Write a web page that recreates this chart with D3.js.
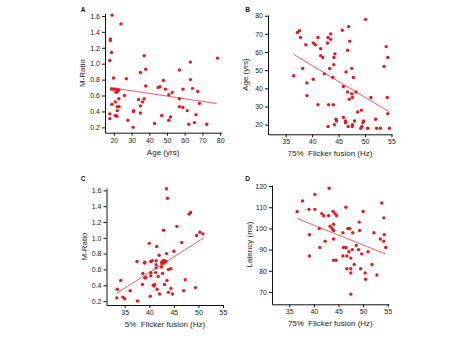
<!DOCTYPE html>
<html>
<head>
<meta charset="utf-8">
<script src="https://cdn.jsdelivr.net/npm/d3@7"></script>
<style>
  body { margin: 0; background: #fff; }
  svg { font-family: "Liberation Sans", Arial, sans-serif; }
</style>
</head>
<body>
<script>
// Panel A: age vs M-ratio
const ageA = [19, 24, 18, 18, 18.7, 17.7, 19.8, 27, 37.1, 38, 35, 38, 18.7, 19.8, 20.8, 21.9, 21.2, 22, 22.8, 26, 22.8, 20.8, 18.9, 21.9, 23, 21.9, 17.7, 20.8, 21.7, 17.7, 27.9, 31, 31.2, 30.9, 34, 35, 35, 36.2, 37.1, 43, 45, 46, 47, 48, 49.1, 51, 53, 51, 52, 57, 57, 57, 59, 59, 61.4, 63.2, 63.2, 64.4, 67.4, 68.3, 66.4, 65.5, 62.3, 72.4, 78.5];
const mratioA = [1.61, 1.50, 1.31, 1.29, 1.14, 1.04, 0.82, 0.81, 1.10, 0.93, 0.89, 0.72, 0.68, 0.68, 0.68, 0.67, 0.64, 0.65, 0.67, 0.60, 0.56, 0.52, 0.49, 0.46, 0.46, 0.41, 0.37, 0.35, 0.34, 0.31, 0.29, 0.40, 0.41, 0.20, 0.55, 0.47, 0.38, 0.52, 0.56, 0.25, 0.70, 0.71, 0.35, 0.79, 0.68, 0.61, 0.64, 0.29, 0.33, 0.92, 0.56, 0.46, 0.45, 0.68, 0.41, 1.02, 0.80, 0.69, 0.65, 0.50, 0.36, 0.26, 0.24, 0.24, 1.07];
const fitA = [[18, 0.70], [78, 0.50]];

// Panel B: 75% flicker fusion vs age
const ffB = [50.1, 46.9, 37.2, 37.6, 37.8, 43.5, 45.7, 41.1, 43.0, 43.5, 47.1, 38.8, 40.2, 40.6, 42.9, 41.6, 41.6, 42, 44.3, 44.1, 46.7, 54, 54.3, 53.6, 38.2, 43.3, 44.1, 47.5, 46.4, 42.3, 43.9, 47.8, 36.5, 40.2, 39, 45.9, 48.3, 46.7, 47.5, 47.6, 47, 51.1, 54.2, 39, 41.1, 43.1, 44, 49.3, 48.6, 54.3, 45.9, 44.5, 44.6, 46.3, 48, 49.7, 49.6, 52, 44.2, 46.3, 46.8, 47.6, 47.6, 43, 49.2, 49.4, 50.5, 52.2, 52.9, 54.6];
const ageB = [78, 74, 70.8, 71.7, 68, 70, 72, 68, 68, 67, 66, 64, 65, 64, 65, 61.8, 58, 57, 59, 57, 61, 63, 57, 52, 51, 51, 53, 51, 49, 48, 46, 46, 47, 45, 43, 41, 38, 38, 37, 35, 34, 35, 35, 36, 31, 31, 31, 28, 27, 26, 24, 23, 22, 22, 22, 22, 21, 23, 20, 21, 19, 20, 19, 19, 18, 19, 18, 18, 18, 18];
const fitB = [[36.5, 58.7], [54.5, 27.2]];

// Panel C: 5% flicker fusion vs M-ratio
const ffC = [43.5, 43.7, 48.1, 48.4, 45.6, 42.9, 49.6, 50.3, 50.9, 46.6, 40, 41.5, 45, 42, 43.5, 37.5, 39, 39.1, 40.3, 40.6, 41.4, 41.4, 42.5, 42.8, 43.1, 43.4, 42.6, 43, 43.9, 44.4, 41.4, 42.5, 38.7, 40.3, 41.3, 42.7, 41.8, 40.3, 39.1, 39.3, 34.2, 43.6, 47.3, 38.6, 40.8, 41, 41.1, 43.1, 33.5, 36.1, 41.6, 44.4, 47, 49.4, 43.9, 42.1, 44.7, 40.2, 33.4, 34.6, 35, 37.6];
const mratioC = [1.62, 1.50, 1.30, 1.32, 1.145, 1.095, 1.03, 1.07, 1.05, 0.94, 0.93, 0.89, 0.83, 0.78, 0.80, 0.70, 0.68, 0.69, 0.70, 0.71, 0.71, 0.66, 0.69, 0.71, 0.71, 0.70, 0.67, 0.68, 0.60, 0.61, 0.62, 0.63, 0.55, 0.56, 0.56, 0.55, 0.51, 0.52, 0.49, 0.50, 0.46, 0.46, 0.47, 0.41, 0.40, 0.39, 0.41, 0.41, 0.35, 0.33, 0.35, 0.36, 0.33, 0.37, 0.31, 0.29, 0.29, 0.26, 0.24, 0.25, 0.23, 0.20];
const fitC = [[33.4, 0.30], [51.1, 1.00]];

// Panel D: 75% flicker fusion vs latency
const ffD = [43.1, 40.2, 37.7, 36.6, 39, 40.2, 46.5, 53.8, 50, 43.9, 44.3, 41.6, 42, 44.6, 43, 54.2, 49.2, 44, 43.3, 43.7, 44, 41.1, 46.9, 47.3, 49.3, 45.9, 47.9, 52.2, 39.1, 54.3, 53.5, 54.2, 44, 42.3, 48.6, 54.6, 41.2, 46, 46.5, 47.8, 49.1, 47.1, 49.7, 51, 39.1, 45.9, 46.7, 47.5, 44, 44.5, 51.8, 48.2, 46.7, 47.5, 49.5, 47.5, 50.4, 52.8, 50.5, 47.5];
const latD = [119, 116, 113, 108, 109, 109, 110, 112, 108, 108, 107, 107, 106, 106, 106, 105, 103, 102, 101, 100, 99, 100, 100, 100, 99, 98, 98, 98, 97, 97, 95, 94, 95, 94, 92, 91, 91, 91, 91, 90, 90, 89, 88, 89, 87, 87, 87, 86, 85, 85, 83, 83, 81, 81, 81, 79, 79, 78, 76, 69];
const fitD = [[36.6, 104.7], [54.6, 87.9]];

const ticksMR = [0.2, 0.4, 0.6, 0.8, 1.0, 1.2, 1.4, 1.6];
const ticksAge = [20, 30, 40, 50, 60, 70, 80];
const ticksFF = [35, 40, 45, 50, 55];
const ticksLat = [70, 80, 90, 100, 110, 120];

const W = 474, H = 340;
const dotColor = "#e31b23";
const lineColor = "#ec5f67";

const svg = d3.select("body").append("svg")
    .attr("width", W)
    .attr("height", H);

const panels = [
    { letter: "A", xs: ageA, ys: mratioA, fit: fitA,
      xDom: [15, 80.6], xRange: [105, 221.2], yDom: [0.133, 1.633], yRange: [132.7, 13.3],
      xTicks: ticksAge, yTicks: ticksMR, xFmt: d3.format("d"), yFmt: d3.format(".1f"),
      xTitle: "Age (yrs)", yTitle: "M-Ratio", letterPos: [83, 9.5] },
    { letter: "B", xs: ffB, ys: ageB, fit: fitB,
      xDom: [31.65, 55.1], xRange: [268, 392], yDom: [14.7, 80.4], yRange: [134.3, 15],
      xTicks: ticksFF, yTicks: ticksAge, xFmt: d3.format("d"), yFmt: d3.format("d"),
      xTitle: "75%  Flicker fusion (Hz)", yTitle: "Age (yrs)", letterPos: [247.7, 9] },
    { letter: "C", xs: ffC, ys: mratioC, fit: fitC,
      xDom: [31.3, 55.1], xRange: [106.5, 223.5], yDom: [0.15, 1.63], yRange: [305, 188],
      xTicks: ticksFF, yTicks: ticksMR, xFmt: d3.format("d"), yFmt: d3.format(".1f"),
      xTitle: "5%  Flicker fusion (Hz)", yTitle: "M-Ratio", letterPos: [83, 178.5] },
    { letter: "D", xs: ffD, ys: latD, fit: fitD,
      xDom: [31.5, 55.2], xRange: [272, 388.7], yDom: [64.2, 120.5], yRange: [304.3, 185],
      xTicks: ticksFF, yTicks: ticksLat, xFmt: d3.format("d"), yFmt: d3.format("d"),
      xTitle: "75%  Flicker fusion (Hz)", yTitle: "Latency (ms)", letterPos: [247.7, 178] }
];

panels.forEach(drawPanel);

function drawPanel(p) {
    const x = d3.scaleLinear().domain(p.xDom).range(p.xRange);
    const y = d3.scaleLinear().domain(p.yDom).range(p.yRange);
    const g = svg.append("g");

    // axes
    const xAxis = g.append("g")
        .attr("transform", `translate(0,${p.yRange[0]})`)
        .call(d3.axisBottom(x).tickValues(p.xTicks).tickFormat(p.xFmt)
            .tickSizeInner(3).tickSizeOuter(0).tickPadding(2));
    const yAxis = g.append("g")
        .attr("transform", `translate(${p.xRange[0]},0)`)
        .call(d3.axisLeft(y).tickValues(p.yTicks).tickFormat(p.yFmt)
            .tickSizeInner(3).tickSizeOuter(0).tickPadding(2));

    [xAxis, yAxis].forEach(a => {
        a.select(".domain").attr("stroke", "#111").attr("stroke-width", 1);
        a.selectAll(".tick line").attr("stroke", "#111");
        a.selectAll(".tick text").attr("fill", "#222").style("font-size", "7px");
    });

    // fit line
    g.append("path")
        .datum(p.fit)
        .attr("d", d3.line().x(d => x(d[0])).y(d => y(d[1])))
        .attr("fill", "none")
        .attr("stroke", lineColor)
        .attr("stroke-width", 1);

    // dots
    g.selectAll(".dot")
        .data(p.xs.map((v, i) => [v, p.ys[i]]))
        .enter()
        .append("circle")
        .attr("class", "dot")
        .attr("cx", d => x(d[0]))
        .attr("cy", d => y(d[1]))
        .attr("r", 1.7)
        .attr("fill", dotColor);

    // titles
    const xMid = (p.xRange[0] + p.xRange[1]) / 2;
    g.append("text")
        .attr("x", xMid)
        .attr("y", p.yRange[0] + 22)
        .attr("text-anchor", "middle")
        .attr("fill", "#222")
        .style("font-size", "8px")
        .style("white-space", "pre")
        .text(p.xTitle);

    const yMid = (p.yRange[0] + p.yRange[1]) / 2;
    g.append("text")
        .attr("transform", `translate(${p.xRange[0] - 20},${yMid}) rotate(-90)`)
        .attr("text-anchor", "middle")
        .attr("fill", "#222")
        .style("font-size", "8px")
        .text(p.yTitle);

    g.append("text")
        .attr("x", p.letterPos[0])
        .attr("y", p.letterPos[1] + 2.5)
        .attr("text-anchor", "middle")
        .attr("fill", "#111")
        .style("font-size", "6.5px")
        .style("font-weight", "bold")
        .text(p.letter);
}
</script>
</body>
</html>
